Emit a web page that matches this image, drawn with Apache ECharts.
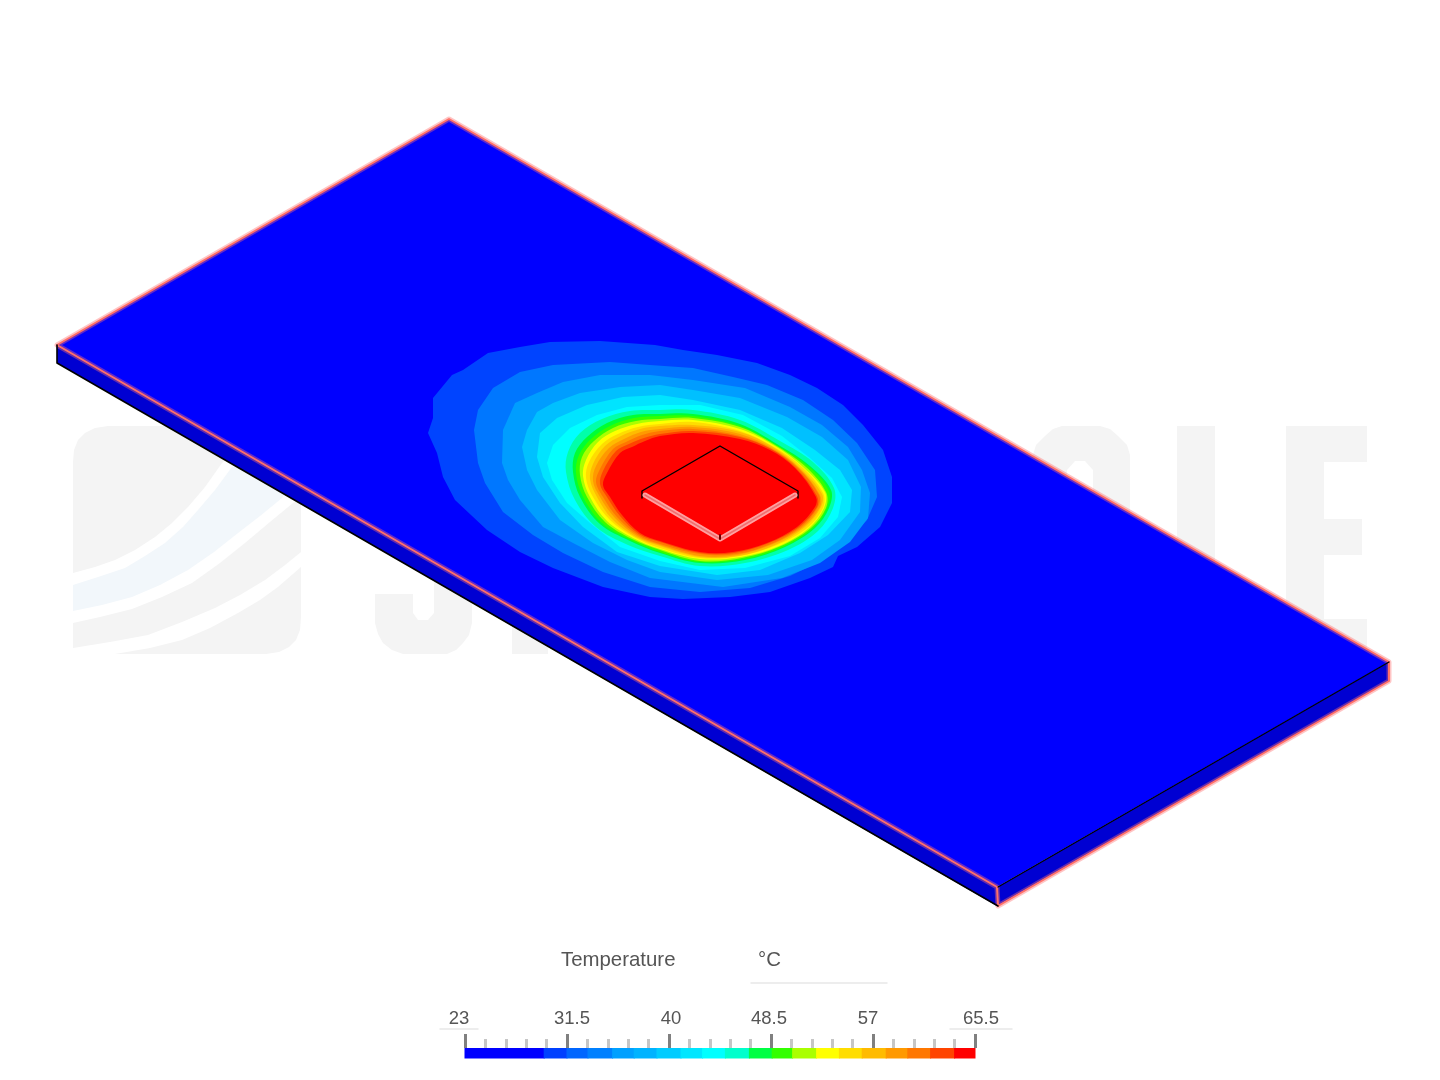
<!DOCTYPE html>
<html><head><meta charset="utf-8">
<script src="https://cdn.jsdelivr.net/npm/echarts@6/dist/echarts.min.js"></script>
<style>html,body{margin:0;padding:0;background:#fff}#c{width:1440px;height:1080px}</style>
</head><body><div id="c"></div>
<script>
// ---------- colour scale (degrees C) ----------
const tempMin = 23;
const tempMax = 65.5;
const tempStep = 8.5;
const bandEdges = [23,29.6,31.5,33.25,35.3,37.1,39,41,42.8,44.7,46.7,48.6,50.3,52.3,54.2,56.1,58.1,59.9,61.8,63.8,65.5];
const bandColors = ['#0000ff','#0040ff','#0066ff','#0080ff','#00a0ff','#00b3ff','#00ccff','#00e6ff','#00ffff','#00ffcc','#00ff44','#33ff00','#aaff00','#ffff00','#ffdd00','#ffbb00','#ff9900','#ff7700','#ff4400','#ff0000'];
const labelShift = [-6,5,2,-2,-5,6];
const titleText = 'Temperature';
const unitText = '°C';

// ---------- plate geometry ----------
const plateTop = [[449,119],[1389,662],[997,887],[57,345]];
const plateSideLeft = [[57,345],[997,887],[997,906],[57,363]];
const plateSideRight = [[997,887],[1389,662],[1389,681],[997,906]];
const edgeSalmon = [[997,887],[57,345],[449,119],[1389,662],[1389,681],[998,906],[997,887]];
const edgeBlackLow = [[57,345],[57,363],[998,906]];
const edgeBlackRight = [[998,887],[1389,662]];
const chipBlack = [[642,498],[642,491],[720,446],[798,491],[798,498]];
const chipGlow = [[645,495],[720,539],[795,495]];
const chipDot = [[720,535],[720,539]];

// ---------- temperature contours (outermost to innermost) ----------
const contour1 = [[655,345],[600,341],[550,342],[520,347],[488,353],[463,370],[452,375],[433,398],[433,418],[428,433],[437,453],[443,477],[455,500],[487,530],[520,552],[553,568],[603,587],[650,597],[683,599],[730,597],[770,592],[810,578],[833,567],[838,556],[857,547],[880,527],[892,503],[892,477],[883,450],[863,425],[843,405],[817,388],[790,375],[757,363],[717,355],[683,350]];
const contour2 = [[650,365],[610,362],[553,365],[520,372],[493,388],[478,410],[474,430],[478,463],[485,483],[503,512],[533,535],[563,553],[603,572],[650,587],[700,592],[750,588],[790,576],[823,560],[847,540],[867,520],[877,497],[875,470],[857,443],[833,420],[803,400],[767,385],[733,377],[693,368]];
const contour3 = [[650,375],[600,375],[563,382],[537,393],[515,403],[503,430],[502,463],[508,480],[520,500],[543,527],[573,543],[610,562],[650,578],[723,587],[782,578],[820,563],[850,542],[868,518],[870,493],[862,470],[848,447],[822,425],[790,407],[745,388],[693,380]];
const contour4 = [[660,385],[620,387],[580,393],[553,403],[537,412],[527,430],[522,447],[527,470],[537,490],[560,520],[593,543],[627,560],[660,572],[717,580],[768,575],[812,560],[840,540],[860,512],[861,487],[848,460],[822,437],[787,417],[740,398],[693,390]];
const contour5 = [[660,395],[623,397],[587,405],[557,418],[540,433],[537,457],[543,477],[560,503],[583,527],[617,552],[660,566],[717,575],[760,570],[800,553],[828,535],[850,512],[852,490],[840,470],[815,450],[782,428],[740,410],[693,400]];
const contour6 = [[660,405],[627,407],[597,415],[570,428],[553,445],[547,463],[552,480],[567,503],[590,523],[620,547],[660,561],[700,570],[745,568],[790,556],[820,538],[838,517],[842,497],[832,478],[810,458],[782,436],[743,415],[700,405]];
const contour7 = [[660,410],[693,410],[740,420],[780,441],[813,462],[834,488],[833,508],[818,531],[788,550],[745,563],[700,566],[660,556],[628,545],[596,527],[575,500],[566,472],[568,452],[580,433],[602,419],[630,411]];
const contour8 = [[660,414],[693,414],[740,424],[777,444],[810,466],[831,490],[829,508],[815,528],[785,547],[745,560],[700,563],[660,553],[630,541],[600,524],[580,497],[573,472],[575,453],[587,437],[607,423],[633,415]];
const contour9 = [[660,416],[693,416],[740,426],[776,445],[808,466],[829,491],[827,508],[813,528],[783,547],[744,559],[700,562],[660,552],[631,540],[602,523],[583,497],[576,473],[579,455],[591,439],[610,426],[634,418]];
const contour10 = [[660,419],[693,418],[740,427],[775,445],[806,467],[826,492],[826,508],[811,528],[781,546],[742,558],[700,561],[660,550],[632,539],[605,522],[587,497],[580,475],[582,457],[594,441],[613,428],[636,421]];
const contour11 = [[660,421],[693,420],[740,429],[775,446],[803,467],[825,492],[824,508],[809,528],[779,546],[741,557],[700,559],[660,549],[633,538],[607,521],[590,497],[583,476],[586,460],[598,442],[615,431],[637,424]];
const contour12 = [[660,424],[693,422],[740,431],[774,447],[802,467],[823,493],[823,508],[807,528],[777,545],[740,556],[700,558],[660,548],[634,537],[610,520],[593,497],[586,478],[589,462],[602,444],[618,434],[638,427]];
const contour13 = [[660,426],[693,425],[740,432],[773,447],[800,468],[822,494],[821,507],[805,527],[775,545],[738,556],[700,557],[660,546],[636,537],[612,519],[597,497],[590,479],[593,464],[605,446],[621,436],[640,429]];
const contour14 = [[660,429],[693,427],[740,434],[772,448],[799,468],[820,495],[820,507],[803,527],[773,544],[737,555],[700,556],[660,545],[637,536],[615,518],[600,497],[593,481],[596,466],[609,448],[624,439],[641,432]];
const contour15 = [[660,431],[693,429],[740,436],[772,449],[798,468],[819,495],[818,507],[801,527],[771,544],[736,554],[700,554],[660,544],[638,535],[617,517],[603,497],[596,482],[600,469],[613,449],[626,442],[642,435]];
const contour16 = [[660,434],[693,431],[740,437],[771,449],[796,468],[817,496],[817,507],[799,527],[769,543],[734,553],[700,553],[660,542],[639,534],[620,516],[607,497],[600,484],[603,471],[616,451],[629,444],[644,438]];
const contour17 = [[660,436],[693,433],[740,439],[770,450],[795,468],[816,497],[815,507],[797,527],[767,543],[733,552],[700,552],[660,541],[640,533],[622,515],[610,497],[603,485],[607,473],[620,453],[632,447],[645,441]];
const contourList = [contour1,contour2,contour3,contour4,contour5,contour6,contour7,contour8,contour9,contour10,contour11,contour12,contour13,contour14,contour15,contour16,contour17];
const contourColors = ['#0044ff','#0077ff','#009dff','#00c0ff','#00e4ff','#00ffff','#00ffaa','#00ff33','#33ff00','#aaff00','#ffff00','#ffdd00','#ffbb00','#ff9900','#ff7700','#ff4400','#ff0000'];

// ---------- faint logo behind the plate ----------
const logoBase = [[73,462],[74,450],[78,440],[85,433],[95,428],[108,426],[301,426],[301,617],[300,630],[296,640],[289,647],[279,652],[266,654],[73,654]];
const logoWhiteA = [[73,573],[95,567],[115,560],[135,550],[155,537],[172,523],[188,507],[205,487],[222,463],[290,400],[330,480],[293,503],[270,522],[245,543],[220,563],[192,583],[162,597],[132,609],[100,617],[73,623]];
const logoTint = [[73,585],[98,577],[125,568],[145,556],[165,543],[183,527],[198,510],[215,490],[232,467],[300,470],[282,498],[260,516],[238,533],[214,552],[188,570],[160,585],[132,597],[102,605],[73,611]];
const logoWhiteC = [[73,648],[110,642],[148,635],[182,622],[215,608],[240,595],[265,580],[285,565],[301,552],[301,567],[278,587],[260,600],[238,613],[210,628],[182,640],[150,648],[115,654],[73,654]];
const letterS = [[375,594],[413,594],[413,613],[418,620],[428,620],[434,613],[434,560],[472,560],[472,623],[469,635],[463,643],[456,650],[447,654],[403,654],[392,650],[383,643],[378,634],[375,623]];
const letterI = [[512,600],[548,600],[548,654],[512,654]];
const letterA = [[1033,560],[1033,455],[1036,445],[1045,436],[1053,429],[1062,426],[1100,426],[1110,429],[1118,436],[1127,445],[1130,455],[1130,560]];
const letterAHole = [[1067,560],[1067,470],[1075,461],[1085,461],[1093,470],[1093,560]];
const letterL = [[1177,426],[1215,426],[1215,600],[1177,600]];
const letterE = [[1286,426],[1367,426],[1367,462],[1324,462],[1324,519],[1362,519],[1362,555],[1324,555],[1324,619],[1367,619],[1367,654],[1286,654]];

// ---------- legend hairlines ----------
const ruleUnit = [[751,983],[887,983]];
const ruleMin = [[440,1029],[478,1029]];
const ruleMax = [[950,1029],[1012,1029]];

// ---------- helpers ----------
let zOrder = 1;
function shapeSeries(name, pts, build){
  return {name, type:'custom', coordinateSystem:'cartesian2d', xAxisIndex:0, yAxisIndex:0,
    silent:true, animation:false, clip:false, z:zOrder++, data:pts, encode:{x:0,y:1},
    renderItem:(p,api)=> p.dataIndex ? null : build(pts.map(q=>api.coord(q)))};
}
const fill = (name,pts,color,smooth)=>shapeSeries(name,pts,c=>({type:'polygon',shape:{points:c,smooth:smooth||0},style:{fill:color}}));
const line = (name,pts,color,w)=>shapeSeries(name,pts,c=>({type:'polyline',shape:{points:c},style:{stroke:color,lineWidth:w,fill:'none',lineJoin:'round',lineCap:'round'}}));

const series = [];
const logoGray = '#f4f4f4';
series.push(fill('logo',logoBase,logoGray));
series.push(fill('logo swoosh',logoWhiteA,'#ffffff'));
series.push(fill('logo tint',logoTint,'#f2f7fb'));
series.push(fill('logo swoosh 2',logoWhiteC,'#ffffff'));
series.push(fill('S',letterS,logoGray));
series.push(fill('I',letterI,logoGray));
series.push(fill('A',letterA,logoGray));
series.push(fill('A hole',letterAHole,'#ffffff'));
series.push(fill('L',letterL,logoGray));
series.push(fill('E',letterE,logoGray));

series.push(fill('side left',plateSideLeft,'#0000d2'));
series.push(fill('side right',plateSideRight,'#0000d2'));
series.push(fill('top',plateTop,bandColors[0]));
contourList.forEach((pts,i)=>series.push(fill('T'+i,pts,contourColors[i],i>=6?0.35:0)));

series.push(line('edge glow',edgeSalmon,'rgba(255,110,110,0.4)',5));
series.push(line('edge',edgeSalmon,'#ff7068',2));
series.push(line('black low',edgeBlackLow,'#000000',1.6));
series.push(line('black right',edgeBlackRight,'#000000',1.3));
series.push(line('chip',chipBlack,'#000000',1.4));
series.push(line('chip glow',chipGlow,'rgba(255,215,215,0.75)',5));
series.push(line('chip core',chipGlow,'#f07070',1.6));
series.push(line('chip dot',chipDot,'#700000',2));
series.push(line('rule unit',ruleUnit,'#e8e8e8',1.5));
series.push(line('rule min',ruleMin,'#e8e8e8',1.5));
series.push(line('rule max',ruleMax,'#e8e8e8',1.5));

// colour bar, drawn on the temperature axis (axis runs from 0 = tempMin so ticks start at min)
series.push({name:'colour bar', type:'custom', coordinateSystem:'cartesian2d', xAxisIndex:1, yAxisIndex:1,
  silent:true, animation:false, z:zOrder++,
  data: bandColors.map((c,i)=>[bandEdges[i]-tempMin, bandEdges[i+1]-tempMin, i]),
  encode:{x:[0,1]},
  renderItem:(p,api)=>{
    const a=api.coord([api.value(0),0]), b=api.coord([api.value(1),1]);
    return {type:'rect',shape:{x:a[0]-0.5,y:b[1],width:b[0]-a[0]+1,height:a[1]-b[1]},style:{fill:bandColors[api.value(2)]}};
  }});

const rich = {};
labelShift.forEach((s,i)=>{ rich['t'+i]={fontSize:18.5,color:'#555',fontFamily:'Liberation Sans',
  padding:[0,s<0?-2*s:0,0,s>0?2*s:0]}; });

const option = {
  backgroundColor:'#ffffff',
  animation:false,
  grid:[
    {left:0,top:0,width:1440,height:1080,containLabel:false},
    {left:465,top:1048,width:510,height:10.5,containLabel:false}
  ],
  xAxis:[
    {type:'value',gridIndex:0,min:0,max:1440,show:false},
    {type:'value',gridIndex:1,min:0,max:tempMax-tempMin,interval:tempStep,position:'top',
      axisLine:{show:false,onZero:false},splitLine:{show:false},
      axisTick:{show:true,length:14,lineStyle:{color:'#808080',width:3}},
      minorTick:{show:true,splitNumber:5,length:9,lineStyle:{color:'#c6c6c6',width:3}},
      minorSplitLine:{show:false},
      axisLabel:{show:true,margin:20,hideOverlap:false,showMinLabel:true,showMaxLabel:true,rich,
        formatter:(v)=>{const i=Math.round(v/tempStep);return '{t'+i+'|'+(v+tempMin)+'}';}}}
  ],
  yAxis:[
    {type:'value',gridIndex:0,min:0,max:1080,inverse:true,show:false},
    {type:'value',gridIndex:1,min:0,max:1,show:false}
  ],
  graphic:[
    {type:'text',silent:true,x:561,y:960,style:{text:titleText,font:'20.4px "Liberation Sans"',fill:'#555',textVerticalAlign:'middle'}},
    {type:'text',silent:true,x:758,y:960,style:{text:unitText,font:'20.4px "Liberation Sans"',fill:'#555',textVerticalAlign:'middle'}}
  ],
  series
};
echarts.init(document.getElementById('c'),null,{renderer:'canvas'}).setOption(option);
</script></body></html>
